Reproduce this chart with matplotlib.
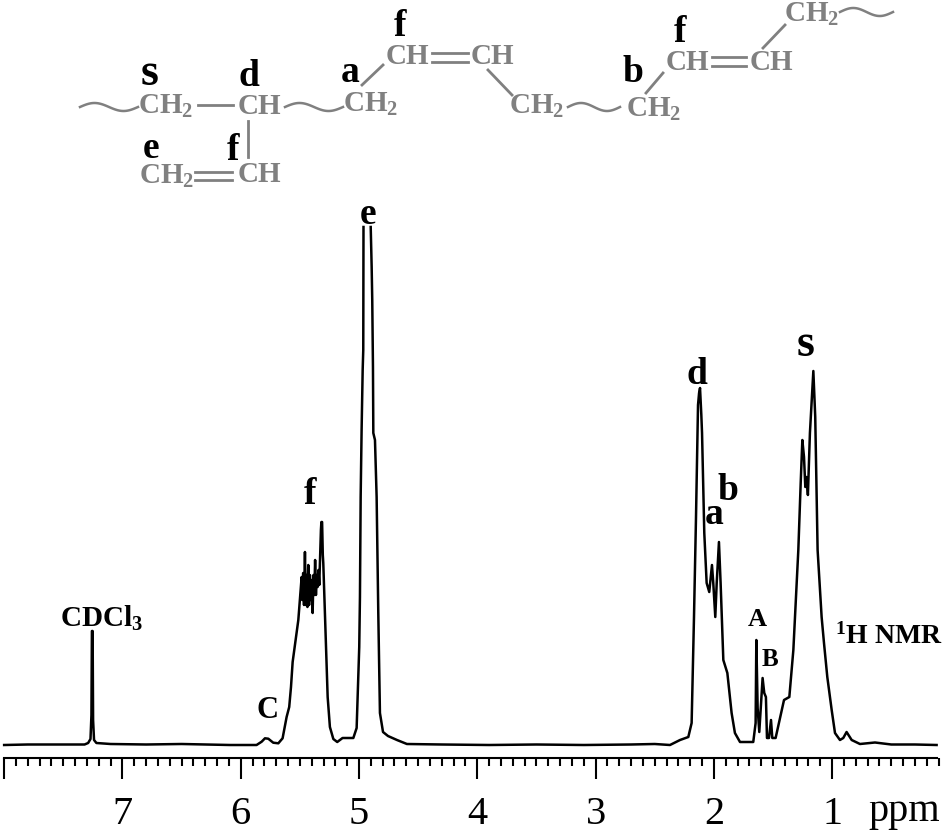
#!/usr/bin/env python3
# -*- coding: utf-8 -*-
"""
1H NMR spectrum with the polymer structure drawn above it
"""
import numpy as np
import matplotlib
matplotlib.use('Agg')
import matplotlib.pyplot as plt
from matplotlib.ticker import MultipleLocator

plt.rcParams['font.family'] = ['Liberation Serif', 'DejaVu Serif']
plt.rcParams['mathtext.default'] = 'regular'

'''________________________DATA__________________________________'''

ppm = [8.00, 7.80, 7.50, 7.32, 7.29, 7.27, 7.262, 7.258, 7.252, 7.248, 7.24, 7.22, 7.10, 6.80, 6.50,
       6.09, 5.866, 5.823, 5.795, 5.767, 5.725, 5.682, 5.646, 5.612, 5.59, 5.575, 5.561, 5.513, 5.485,
       5.48, 5.472, 5.465, 5.457, 5.45, 5.443, 5.436, 5.429, 5.422, 5.415, 5.408, 5.40, 5.392, 5.385,
       5.378, 5.371, 5.364, 5.357, 5.35, 5.343, 5.336, 5.33, 5.322, 5.318, 5.312, 5.306, 5.302, 5.288,
       5.265, 5.246, 5.217, 5.184, 5.139, 5.048, 5.02, 4.998, 4.992, 4.986, 4.978, 4.969, 4.964, 4.962,
       4.93,
       4.901, 4.893, 4.888, 4.882, 4.879, 4.865, 4.851, 4.837, 4.823, 4.797, 4.755, 4.679, 4.595,
       4.30, 3.90, 3.50, 3.10, 2.70, 2.50, 2.371, 2.286, 2.216, 2.188, 2.168, 2.151, 2.134, 2.125, 2.117,
       2.106, 2.10, 2.081, 2.061, 2.039, 2.016, 2.005, 1.988, 1.976, 1.957, 1.943, 1.92, 1.886, 1.85,
       1.822, 1.779, 1.667, 1.647, 1.641, 1.63, 1.616, 1.588, 1.574, 1.56, 1.551, 1.534, 1.517, 1.506,
       1.478, 1.45, 1.407, 1.362, 1.328, 1.286, 1.266, 1.252, 1.238, 1.227, 1.216, 1.205, 1.188, 1.159,
       1.143, 1.123, 1.089, 1.069, 1.041, 1.004, 0.976, 0.934, 0.906, 0.878, 0.835, 0.765, 0.638, 0.50,
       0.30, 0.117]
intensity = [0, 0.5, 0.5, 0.5, 2, 6, 30, 114, 114, 25, 5, 2, 1, 0.5, 1,
             0, 0, 3.3, 6.7, 6.3, 2.3, 1.7, 6.7, 28, 38, 58, 83, 125, 168,
             145, 172, 140, 193, 140, 170, 138, 180, 140, 170, 145, 165, 132, 170,
             150, 185, 150, 170, 158, 175, 160, 185, 215, 223, 223, 190, 182, 132,
             48, 18, 6, 3, 7, 7, 17, 98, 148, 248, 315, 375, 395, 518,
             np.nan,
             518, 478, 445, 378, 312, 305, 248, 132, 32, 13, 9, 5, 1,
             0.5, 0, 0.5, 0, 0.5, 1, 0, 5, 8, 22, 128, 228, 340, 352, 357,
             330, 312, 212, 162, 153, 180, 162, 128, 162, 203, 162, 85, 72, 32,
             12, 3, 3, 22, 105, 37, 13, 67, 52, 48, 7, 7, 25, 7,
             7, 22, 45, 48, 95, 195, 262, 305, 288, 258, 268, 250, 312, 374,
             328, 195, 128, 102, 68, 35, 12, 5, 7, 13, 5, 1, 2.5, 0.5,
             0.5, 0]

major_ticks = [8, 7, 6, 5, 4, 3, 2, 1]
tick_labels = ['', '7', '6', '5', '4', '3', '2', '1']

# peak labels: text, x px, y px, size
peak_labels = [('e', 368, 214, 27), ('f', 310, 495, 27), ('C', 267, 711, 22), ('d', 697, 375, 27),
               ('s', 806, 345, 33), ('b', 728, 490, 27), ('a', 714, 515, 27), ('A', 757, 620, 19),
               ('B', 770, 660, 18), ('$CDCl_3$', 101, 618, 21), ('$^1H$ NMR', 889, 636, 20)]
# structure letters
struct_labels = [('s', 150, 74, 33), ('d', 249, 76, 27), ('a', 350, 72, 27), ('f', 400, 26, 27),
                 ('e', 151, 148, 27), ('f', 233, 150, 27), ('b', 633, 72, 27), ('f', 680, 32, 27)]
# groups in the chain
groups = [('$CH_2$', 166, 106), ('CH', 259, 106), ('$CH_2$', 371, 104), ('CH', 407, 57), ('CH', 492, 57),
          ('$CH_2$', 537, 106), ('$CH_2$', 654, 109), ('CH', 687, 62), ('CH', 771, 62), ('$CH_2$', 812, 14),
          ('$CH_2$', 167, 176), ('CH', 259, 174)]
bonds = [(198, 105, 233, 105), (362, 85, 383, 65), (488, 70, 512, 95), (646, 93, 663, 73),
         (763, 48, 785, 25), (248, 121, 248, 157), (432, 53, 468, 53), (432, 62, 468, 62),
         (712, 57, 746, 57), (712, 66, 746, 66), (195, 172, 232, 172), (195, 180, 232, 180)]
waves = [(80, 138, 107), (285, 343, 107), (568, 620, 107), (840, 893, 12)]

'''________________________FIGURE__________________________________'''

fig = plt.figure(figsize=(9.45, 8.35), dpi=100)

ax = fig.add_axes([0, 0, 1, 1])
ax.patch.set_alpha(0)
ax.plot(ppm, intensity, color='k', linewidth=1.8)
ax.set_xlim(8.035, 0.046)
ax.set_ylim(-90, 745)

for axis in ['top', 'left', 'right']:
    ax.spines[axis].set_visible(False)
ax.spines['bottom'].set_position(('data', -13))
ax.spines['bottom'].set_bounds(8.0, 0.114)
ax.spines['bottom'].set_linewidth(1.5)
ax.set_yticks([])
ax.set_xticks(major_ticks)
ax.set_xticklabels(tick_labels, fontsize=29)
ax.xaxis.set_minor_locator(MultipleLocator(0.1))
ax.tick_params(which='major', direction='out', length=15, width=1.5, pad=12.5)
ax.tick_params(which='minor', direction='out', length=5.8, width=1.5)

# overlay in image pixels for the annotations
over = fig.add_axes([0, 0, 1, 1])
over.set_xlim(0, 945)
over.set_ylim(835, 0)
over.axis('off')

over.text(904, 812, 'ppm', fontsize=29, ha='center', va='center')

for txt, x, y, size in peak_labels + struct_labels:
    over.text(x, y, txt, fontsize=size, fontweight='bold', ha='center', va='center')

for txt, x, y in groups:
    over.text(x, y, txt, fontsize=21, fontweight='bold', color='#808080', ha='center', va='center')

for x0, y0, x1, y1 in bonds:
    over.plot([x0, x1], [y0, y1], color='#808080', linewidth=2)

for x0, x1, y in waves:
    t = np.linspace(0, 1, 60)
    over.plot(x0 + (x1 - x0)*t, y - 4*np.sin(2*np.pi*t), color='#808080', linewidth=1.8)

fig.savefig('out.png', dpi=100)
